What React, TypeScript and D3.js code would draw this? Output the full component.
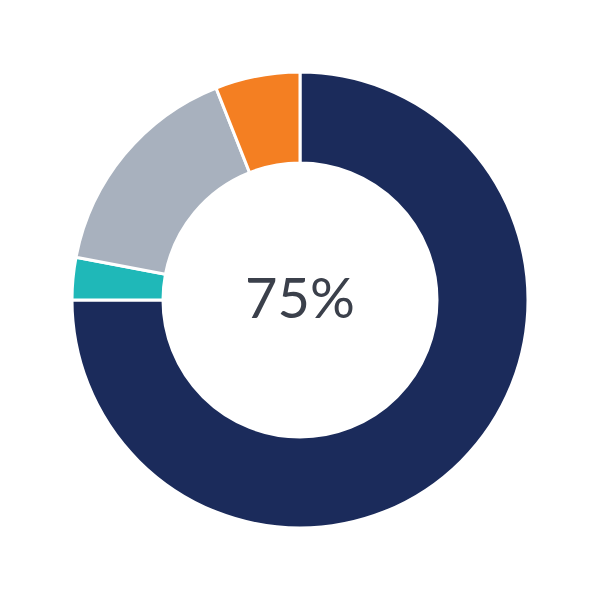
import { useEffect, useRef } from "react"
import * as d3 from "d3"

const labels = ["Navy", "Teal", "Grey", "Orange"]
const values = [75, 3, 16, 6]
const colors = ["#1b2b5b", "#1fb8b8", "#a8b1be", "#f47f22"]
const centerLabel = "75%"

export default function App() {
  const svgRef = useRef<SVGSVGElement>(null)

  useEffect(() => {
    if (!svgRef.current) return
    const svg = d3.select(svgRef.current)
    svg.selectAll("*").remove()

    const width = 600
    const height = 600
    const outer = 228
    const inner = 137

    const data = labels.map((l, i) => ({ label: l, value: values[i], color: colors[i] }))

    const pie = d3
      .pie<{ label: string; value: number; color: string }>()
      .value((d) => d.value)
      .sort(null)

    const arc = d3
      .arc<d3.PieArcDatum<{ label: string; value: number; color: string }>>()
      .innerRadius(inner)
      .outerRadius(outer)

    const g = svg.append("g").attr("transform", `translate(${width / 2},${height / 2})`)

    g.selectAll("path")
      .data(pie(data))
      .enter()
      .append("path")
      .attr("d", arc)
      .attr("fill", (d) => d.data.color)
      .attr("stroke", "#fff")
      .attr("stroke-width", 3)

    // center label
    g.append("text")
      .attr("text-anchor", "middle")
      .attr("y", 18)
      .attr("font-family", "Lato, sans-serif")
      .attr("font-size", 56)
      .attr("fill", "#3b404b")
      .text(centerLabel)
  }, [])

  return (
    <svg
      ref={svgRef}
      width={600}
      height={600}
      style={{ position: "absolute", left: 0, top: 0, background: "#fff" }}
    />
  )
}
